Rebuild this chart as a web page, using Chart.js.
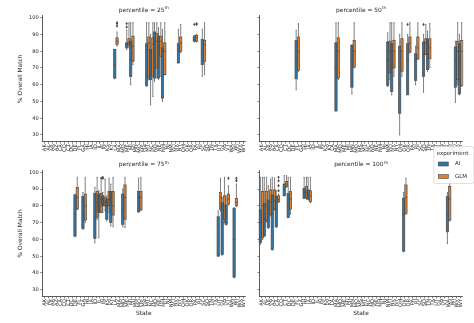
<!DOCTYPE html>
<html><head><meta charset="utf-8">
<script src="https://cdn.jsdelivr.net/npm/chart.js@4"></script>
<style>
html,body{margin:0;padding:0;background:#fff;}
#wrap{position:relative;width:474px;height:323px;overflow:hidden;background:#fff;}
#wrap canvas{position:absolute;left:0;top:0;}
</style></head><body>
<div id="wrap">
<canvas id="c25" width="474" height="323"></canvas>
<canvas id="c50" width="474" height="323"></canvas>
<canvas id="c75" width="474" height="323"></canvas>
<canvas id="c100" width="474" height="323"></canvas>
</div>
<script>
// State categories along each x axis
const states = ['AK','AL','AR','AZ','CA','CO','CT','DC','DE','FL','GA','HI','IA','ID','IL','IN','KS','KY','LA','MA','MD','ME','MI','MN','MO','MS','MT','NC','ND','NE','NH','NJ','NM','NV','NY','OH','OK','OR','PA','RI','SC','SD','TN','TX','UT','VA','VT','WA','WI','WV','WY'];
const yTicks = [30, 40, 50, 60, 70, 80, 90, 100];
const experiments = ['AI', 'GLM'];

// Box summaries per state: [state, whiskerLow, q1, median, q3, whiskerHigh]
const p25_AI = [
  ['LA', 63.5, 64, 72, 81, 81], ['ME', 81, 82, 84, 85, 92.5], ['MI', 60, 65, 75, 86, 97],
  ['MT', 59, 59.5, 83, 84.5, 97], ['NC', 48, 63, 80, 81, 90], ['ND', 62, 64, 85, 91.5, 97],
  ['NE', 63, 64, 80, 89, 94], ['NH', 50, 52, 80, 82, 93], ['NY', 73, 73, 80, 84.5, 93],
  ['PA', 85.5, 86, 87, 89, 89.5], ['SC', 65, 72, 80, 87, 93]
];
const p25_GLM = [
  ['LA', 83, 84, 86, 88, 91.5], ['ME', 82, 83.5, 85, 87.5, 97], ['MI', 72, 74, 83, 89, 97],
  ['MT', 63, 64, 85, 88.5, 97], ['NC', 53, 65, 84, 88, 97], ['ND', 64, 70, 86, 90.5, 97],
  ['NE', 65, 77, 86, 89, 97], ['NH', 66, 66, 80, 85, 97], ['NY', 79, 80, 85, 88.5, 96],
  ['PA', 85.5, 86, 88, 89.5, 90], ['SC', 66, 74, 84, 86.5, 97]
];
const p25_AI_out = [['ME', 94.5], ['ME', 96.5], ['PA', 96]];
const p25_GLM_out = [['LA', 95], ['LA', 96.5], ['LA', 97], ['PA', 96], ['PA', 96.5]];

const p50_AI = [
  ['FL', 57, 63.5, 75, 86.5, 92.5], ['MA', 44, 44.5, 70, 85, 97], ['MN', 54.5, 58.5, 75, 83.5, 84],
  ['NM', 59, 59.5, 75, 85.5, 91], ['NV', 54, 56, 70, 84.5, 97], ['OH', 30, 43, 60, 83, 90],
  ['OR', 54, 54, 75, 84.5, 90], ['RI', 60, 62.5, 75, 78.5, 83], ['SD', 55.5, 65, 78, 85.5, 90],
  ['TN', 68, 69, 78, 87, 92], ['WV', 49.5, 58.5, 75, 82.5, 86], ['WY', 54, 54.5, 75, 84.5, 90]
];
const p50_GLM = [
  ['FL', 68, 68.5, 80, 88.5, 96.5], ['MA', 63, 64, 80, 88, 97], ['MN', 70, 70.5, 80, 86.5, 97],
  ['NM', 63, 67, 80, 86, 97], ['NV', 65, 70, 80, 86.5, 97], ['OH', 65, 68, 80, 87.5, 97],
  ['OR', 79, 79.5, 85, 88.5, 97], ['RI', 75, 75.5, 82, 88.5, 97], ['SD', 78, 78, 85, 87.5, 96],
  ['TN', 70, 75.5, 82, 87.5, 96.5], ['WV', 60, 63, 80, 86, 97], ['WY', 59, 59.5, 80, 86.5, 97]
];
const p50_AI_out = [['OR', 96], ['SD', 96]];
const p50_GLM_out = [];

const p75_AI = [
  ['DE', 61.5, 62, 75, 86.5, 87], ['GA', 66, 66.5, 75, 85.5, 88], ['ID', 58, 60.5, 72, 87.5, 91],
  ['IL', 61, 76, 80, 87, 89], ['IN', 76, 80, 84, 86, 88], ['KS', 71, 72, 80, 84, 86],
  ['KY', 68, 70, 78, 88.5, 93], ['MD', 67.5, 69, 78, 87, 90], ['MO', 76, 76.5, 85, 88.5, 96.5],
  ['UT', 50, 50, 68, 73.5, 77], ['VA', 50.5, 51, 70, 82, 85], ['VT', 68.5, 69, 75, 80.5, 86],
  ['WI', 37, 37.5, 60, 78.5, 79]
];
const p75_GLM = [
  ['DE', 78, 78, 85, 91, 97], ['GA', 70, 71.5, 80, 87, 97], ['ID', 72, 73, 82, 88.5, 97],
  ['IL', 76, 76, 84, 87.5, 95], ['IN', 77, 80, 82, 85, 96], ['KS', 76, 80, 84, 88.5, 96.5],
  ['KY', 67.5, 74.5, 80, 88.5, 97], ['MD', 67, 72, 85, 92.5, 97], ['MO', 77.5, 77.5, 85, 88.5, 97],
  ['UT', 77, 78, 85, 88, 96.5], ['VA', 70, 72, 80, 86, 97], ['VT', 80.5, 81, 84, 87, 92],
  ['WI', 79.5, 80, 82, 84.5, 93]
];
const p75_AI_out = [['IN', 96.5], ['IN', 97]];
const p75_GLM_out = [['IL', 96.5], ['VT', 96.5], ['WI', 95], ['WI', 96.5]];

const p100_AI = [
  ['AK', 57, 58, 70, 77.5, 97], ['AL', 62, 62, 72, 81.5, 97], ['AR', 66.5, 67, 78, 83.5, 92],
  ['AZ', 53.5, 54, 75, 86.5, 97], ['CA', 67, 67.5, 78, 85.5, 89], ['CT', 86, 86, 90, 93, 98],
  ['DC', 73, 73, 80, 87.5, 97], ['HI', 84.5, 84.5, 88, 90.5, 97], ['IA', 83.5, 84, 87, 89.5, 97],
  ['OK', 52.5, 53, 75, 84.5, 88], ['WA', 57.5, 64.5, 75, 85.5, 88]
];
const p100_GLM = [
  ['AK', 60, 61, 80, 88.5, 97], ['AL', 70.5, 71, 80, 88.5, 97], ['AR', 74, 75, 82, 89.5, 96],
  ['AZ', 77.5, 78, 83, 89.5, 96.5], ['CA', 82, 82.5, 84, 86, 87], ['CT', 91, 91.5, 93, 94.5, 98],
  ['DC', 75, 78, 84, 88.5, 97], ['HI', 84, 85, 88, 91.5, 97], ['IA', 82, 82.5, 86, 89, 97],
  ['OK', 75, 75.5, 85, 92.5, 96.5], ['WA', 71, 71.5, 84, 91.5, 98]
];
const p100_AI_out = [];
const p100_GLM_out = [['CA', 89], ['CA', 92], ['CA', 95], ['CA', 97]];

const colors = { AI: '#3274a1', GLM: '#e1812c' };
const lineColor = '#4a4a4a';
const axisColor = '#333333';
const FONT = 'DejaVu Sans';

// Plot rectangles [left, top, right, bottom] on the shared 474x323 page
const panels = [
  { id: 'c25',  pct: '25',  rect: [42.3, 15.7, 245.2, 141.7], ai: p25_AI,  glm: p25_GLM,  aiOut: p25_AI_out,  glmOut: p25_GLM_out,  yLabels: true,  xTitle: false },
  { id: 'c50',  pct: '50',  rect: [259.5, 15.7, 462.5, 141.7], ai: p50_AI,  glm: p50_GLM,  aiOut: p50_AI_out,  glmOut: p50_GLM_out,  yLabels: false, xTitle: false },
  { id: 'c75',  pct: '75',  rect: [42.3, 170.3, 245.2, 296.4], ai: p75_AI,  glm: p75_GLM,  aiOut: p75_AI_out,  glmOut: p75_GLM_out,  yLabels: true,  xTitle: true },
  { id: 'c100', pct: '100', rect: [259.5, 170.3, 462.5, 296.4], ai: p100_AI, glm: p100_GLM, aiOut: p100_AI_out, glmOut: p100_GLM_out, yLabels: false, xTitle: true, legend: true }
];

function byState(rows) {
  const out = states.map(() => null);
  rows.forEach(r => { out[states.indexOf(r[0])] = r.slice(1); });
  return out;
}
function outByState(rows) {
  const out = states.map(() => []);
  rows.forEach(r => { out[states.indexOf(r[0])].push(r[1]); });
  return out;
}

// Box outlines, whiskers, caps, medians and fliers, from the same summaries as the boxes
const boxPlugin = {
  id: 'boxParts',
  afterDatasetsDraw(chart) {
    const ctx = chart.ctx, ys = chart.scales.y;
    ctx.save();
    chart.data.datasets.forEach((ds, di) => {
      const meta = chart.getDatasetMeta(di);
      ds.stats.forEach((s, i) => {
        const el = meta.data[i];
        if (!el) return;
        const cx = el.x, w = el.width;
        ctx.strokeStyle = lineColor;
        ctx.lineWidth = 0.7;
        if (s) {
          const pLo = ys.getPixelForValue(s[0]), pQ1 = ys.getPixelForValue(s[1]);
          const pMed = ys.getPixelForValue(s[2]), pQ3 = ys.getPixelForValue(s[3]);
          const pHi = ys.getPixelForValue(s[4]);
          ctx.strokeRect(cx - w / 2, pQ3, w, pQ1 - pQ3);
          ctx.beginPath();
          ctx.moveTo(cx, pQ1); ctx.lineTo(cx, pLo);
          ctx.moveTo(cx, pQ3); ctx.lineTo(cx, pHi);
          ctx.moveTo(cx - w / 4, pLo); ctx.lineTo(cx + w / 4, pLo);
          ctx.moveTo(cx - w / 4, pHi); ctx.lineTo(cx + w / 4, pHi);
          ctx.moveTo(cx - w / 2, pMed); ctx.lineTo(cx + w / 2, pMed);
          ctx.stroke();
        }
        ctx.fillStyle = lineColor;
        ds.fliers[i].forEach(v => {
          const py = ys.getPixelForValue(v);
          ctx.beginPath();
          ctx.moveTo(cx, py - 1.7); ctx.lineTo(cx + 1.2, py);
          ctx.lineTo(cx, py + 1.7); ctx.lineTo(cx - 1.2, py);
          ctx.closePath(); ctx.fill();
        });
      });
    });
    ctx.restore();
  }
};

// Panel title, axis titles and the experiment legend
const textPlugin = {
  id: 'panelText',
  afterDraw(chart) {
    const ctx = chart.ctx, a = chart.chartArea, cfg = chart.options.plugins.panelText;
    ctx.save();
    ctx.fillStyle = '#262626';
    const main = 'percentile = ' + cfg.pct, sup = 'th';
    ctx.font = '5.9px "' + FONT + '"';
    const wMain = ctx.measureText(main).width;
    ctx.font = '4.1px "' + FONT + '"';
    const wSup = ctx.measureText(sup).width;
    const cx = (a.left + a.right) / 2, x0 = cx - (wMain + wSup) / 2;
    const ty = a.top - 5.5;
    ctx.textBaseline = 'middle'; ctx.textAlign = 'left';
    ctx.font = '5.9px "' + FONT + '"';
    ctx.fillText(main, x0, ty);
    ctx.font = '4.1px "' + FONT + '"';
    ctx.fillText(sup, x0 + wMain + 0.3, ty - 1.8);
    ctx.font = '5.9px "' + FONT + '"';
    ctx.textAlign = 'center';
    if (cfg.yTitle) {
      ctx.save();
      ctx.translate(20.5, (a.top + a.bottom) / 2);
      ctx.rotate(-Math.PI / 2);
      ctx.fillText('% Overall Match', 0, 0);
      ctx.restore();
    }
    if (cfg.xTitle) ctx.fillText('State', cx, 313.5);
    if (cfg.legend) {
      ctx.fillStyle = 'rgba(255,255,255,0.9)';
      ctx.strokeStyle = '#cccccc';
      ctx.lineWidth = 0.6;
      ctx.beginPath();
      if (ctx.roundRect) ctx.roundRect(433.8, 146.5, 40, 37, 1.5); else ctx.rect(433.8, 146.5, 40, 37);
      ctx.fill(); ctx.stroke();
      ctx.fillStyle = '#262626';
      ctx.font = '5.5px "' + FONT + '"';
      ctx.fillText('experiment', 452.5, 153.2);
      ctx.textAlign = 'left';
      experiments.forEach((name, k) => {
        const yy = 164 + k * 12.5;
        ctx.fillStyle = colors[name];
        ctx.fillRect(438.3, yy - 2, 10, 4);
        ctx.strokeStyle = lineColor; ctx.lineWidth = 0.6;
        ctx.strokeRect(438.3, yy - 2, 10, 4);
        ctx.fillStyle = '#262626';
        ctx.fillText(name, 455, yy);
      });
    }
    ctx.restore();
  }
};

panels.forEach(p => {
  const [L, T, R, B] = p.rect;
  const yW = 14, xH = 12;
  const aiStats = byState(p.ai), glmStats = byState(p.glm);
  const ds = (name, stats, fliers) => ({
    label: name,
    data: stats.map(s => s ? [s[1], s[3]] : null),
    stats, fliers,
    backgroundColor: colors[name],
    borderWidth: 0,
    categoryPercentage: 1.15,
    barPercentage: 1
  });
  new Chart(document.getElementById(p.id), {
    type: 'bar',
    data: {
      labels: states,
      datasets: [ds('AI', aiStats, outByState(p.aiOut)), ds('GLM', glmStats, outByState(p.glmOut))]
    },
    options: {
      responsive: false,
      animation: false,
      devicePixelRatio: 1,
      layout: { padding: { left: L - yW, top: T, right: 474 - R, bottom: 323 - B - xH } },
      plugins: {
        legend: { display: false },
        tooltip: { enabled: false },
        panelText: { pct: p.pct, yTitle: p.yLabels, xTitle: p.xTitle, legend: !!p.legend }
      },
      scales: {
        x: {
          type: 'category',
          offset: true,
          afterFit: s => { s.height = xH; },
          grid: { display: true, drawOnChartArea: false, offset: false, tickLength: 2, color: axisColor, lineWidth: 0.6 },
          border: { display: true, color: axisColor, width: 0.8 },
          ticks: { autoSkip: false, minRotation: 90, maxRotation: 90, padding: 0.5, color: '#262626', font: { family: FONT, size: 5.2 } }
        },
        y: {
          min: 26, max: 101.2,
          afterFit: s => { s.width = yW; },
          afterBuildTicks: s => { s.ticks = yTicks.map(v => ({ value: v })); },
          grid: { display: true, drawOnChartArea: false, tickLength: 2, color: axisColor, lineWidth: 0.6 },
          border: { display: true, color: axisColor, width: 0.8 },
          ticks: { display: p.yLabels, padding: 1.5, color: '#262626', font: { family: FONT, size: 5.2 } }
        }
      }
    },
    plugins: [boxPlugin, textPlugin]
  });
});
</script>
</body></html>
